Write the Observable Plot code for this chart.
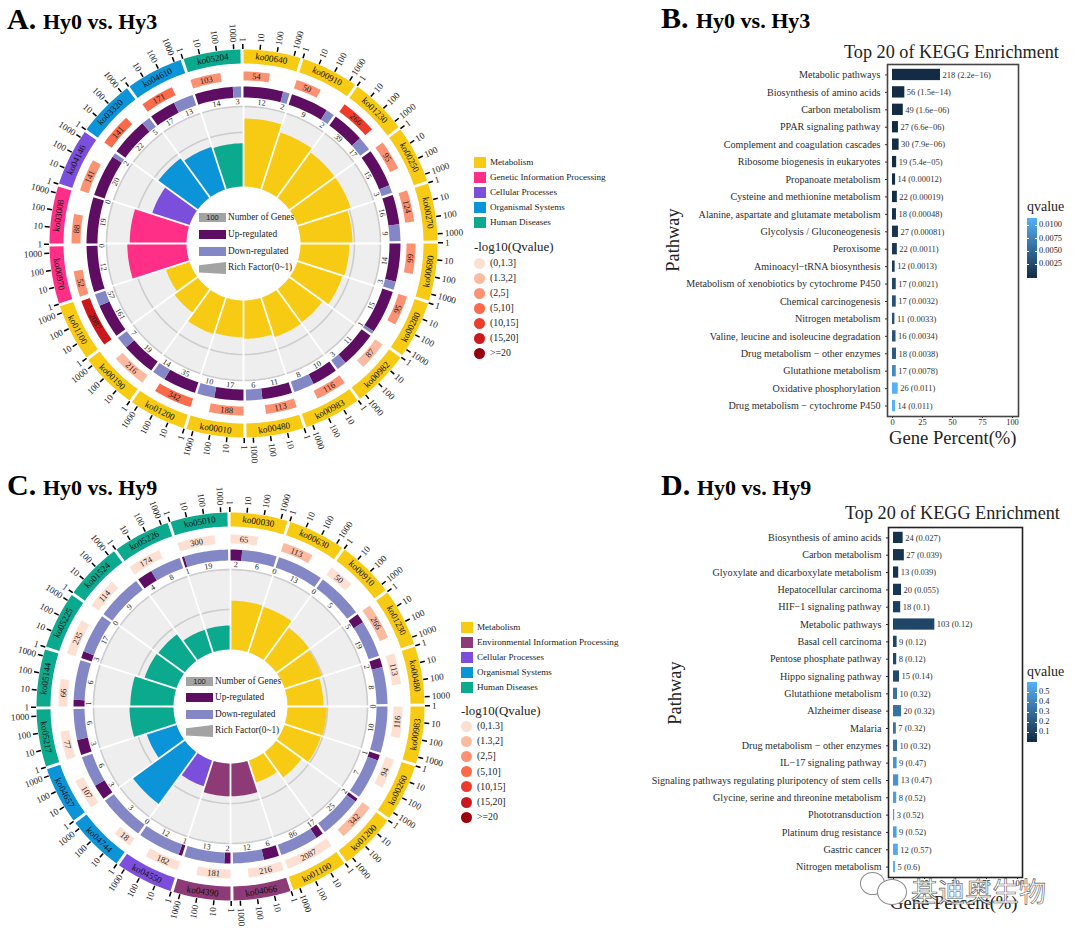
<!DOCTYPE html>
<html>
<head>
<meta charset="utf-8">
<script src="https://cdn.jsdelivr.net/npm/d3@7"></script>
<script src="https://cdn.jsdelivr.net/npm/@observablehq/plot@0.6"></script>
<style>
html,body{margin:0;padding:0;background:#fff}
#page{position:relative;width:1080px;height:937px;overflow:hidden;font-family:"Liberation Serif",serif;color:#222}
#page svg{position:absolute;overflow:visible}
.t{position:absolute;white-space:nowrap;transform:translateY(-50%);line-height:1}
.b{position:absolute}
</style>
</head>
<body>
<div id="page"></div>
<script>
// ---------- Panel A data ----------
const aPathways = ["ko00640","ko00910","ko01230","ko00250","ko00270","ko00680","ko00280","ko00982","ko00983","ko00480","ko00010","ko01200","ko00190","ko01100","ko00970","ko03008","ko04146","ko03320","ko04610","ko05204"];
const aGroups = ["Metabolism","Metabolism","Metabolism","Metabolism","Metabolism","Metabolism","Metabolism","Metabolism","Metabolism","Metabolism","Metabolism","Metabolism","Metabolism","Metabolism","Genetic Information Processing","Genetic Information Processing","Cellular Processes","Organismal Systems","Organismal Systems","Human Diseases"];
const aGenes = [54,50,266,95,124,99,95,87,116,113,188,342,216,2087,52,88,141,141,171,103];
const aQClass = ["(2,5]","(2,5]","(10,15]","(2,5]","(2,5]","(2,5]","(2,5]","(1.3,2]","(2,5]","(2,5]","(2,5]","(5,10]","(1.3,2]","(15,20]","(2,5]","(2,5]","(2,5]","(5,10]","(5,10]","(2,5]"];
const aUp = [12,9,39,15,16,14,15,11,10,11,17,35,19,161,12,19,20,22,17,14];
const aDown = [2,2,17,3,9,3,1,3,8,6,10,14,7,57,0,0,2,5,13,3];
const aRich = [.85,.75,.70,.70,.65,.61,.59,.51,.52,.48,.46,.48,.36,.31,.74,.71,.49,.61,.56,.54];
// ---------- Panel C data ----------
const cPathways = ["ko00030","ko00630","ko00910","ko01230","ko00480","ko00983","ko00260","ko01200","ko01100","ko04066","ko04390","ko04550","ko04744","ko04657","ko05217","ko05144","ko05225","ko01524","ko05226","ko05010"];
const cGroups = ["Metabolism","Metabolism","Metabolism","Metabolism","Metabolism","Metabolism","Metabolism","Metabolism","Metabolism","Environmental Information Processing","Environmental Information Processing","Cellular Processes","Organismal Systems","Organismal Systems","Human Diseases","Human Diseases","Human Diseases","Human Diseases","Human Diseases","Human Diseases"];
const cGenes = [65,113,50,266,113,116,94,342,2087,216,181,182,18,107,77,66,235,114,174,300];
const cQClass = ["(0,1.3]","(1.3,2]","(0,1.3]","(1.3,2]","(0,1.3]","(0,1.3]","(0,1.3]","(1.3,2]","(0,1.3]","(0,1.3]","(0,1.3]","(0,1.3]","(0,1.3]","(0,1.3]","(0,1.3]","(0,1.3]","(0,1.3]","(0,1.3]","(0,1.3]","(0,1.3]"];
const cUp = [2,0,0,5,2,0,1,2,17,6,2,1,0,3,3,1,3,0,4,1];
const cDown = [6,13,5,19,8,10,7,25,86,12,13,12,3,6,6,6,17,9,8,19];
const cRich = [.61,.60,.51,.49,.45,.49,.48,.39,.29,.41,.41,.34,.80,.39,.55,.54,.42,.41,.30,.30];
const logTicks = [1,10,100,1000];
// ---------- Panel B data ----------
const bNames = ["Metabolic pathways","Biosynthesis of amino acids","Carbon metabolism","PPAR signaling pathway","Complement and coagulation cascades","Ribosome biogenesis in eukaryotes","Propanoate metabolism","Cysteine and methionine metabolism","Alanine, aspartate and glutamate metabolism","Glycolysis / Gluconeogenesis","Peroxisome","Aminoacyl−tRNA biosynthesis","Metabolism of xenobiotics by cytochrome P450","Chemical carcinogenesis","Nitrogen metabolism","Valine, leucine and isoleucine degradation","Drug metabolism − other enzymes","Glutathione metabolism","Oxidative phosphorylation","Drug metabolism − cytochrome P450"];
const bCounts = [218,56,49,27,30,19,14,22,18,27,22,12,17,17,11,16,18,17,26,14];
const bQ = ["2.2e-16","1.5e-14","1.6e-06","6.6e-06","7.9e-06","5.4e-05","0.00012","0.00019","0.00048","0.00081","0.0011","0.0013","0.0021","0.0032","0.0033","0.0034","0.0038","0.0078","0.011","0.011"];
const bBackground = 545;
const bLegendTicks = ["0.0100","0.0075","0.0050","0.0025"];
// ---------- Panel D data ----------
const dNames = ["Biosynthesis of amino acids","Carbon metabolism","Glyoxylate and dicarboxylate metabolism","Hepatocellular carcinoma","HIF−1 signaling pathway","Metabolic pathways","Basal cell carcinoma","Pentose phosphate pathway","Hippo signaling pathway","Glutathione metabolism","Alzheimer disease","Malaria","Drug metabolism − other enzymes","IL−17 signaling pathway","Signaling pathways regulating pluripotency of stem cells","Glycine, serine and threonine metabolism","Phototransduction","Platinum drug resistance","Gastric cancer","Nitrogen metabolism"];
const dCounts = [24,27,13,20,18,103,9,8,15,10,20,7,10,9,13,8,3,9,12,5];
const dQ = ["0.027","0.039","0.039","0.055","0.1","0.12","0.12","0.12","0.14","0.32","0.32","0.32","0.32","0.47","0.47","0.52","0.52","0.52","0.57","0.6"];
const dBackground = 309;
const dLegendTicks = ["0.5","0.4","0.3","0.2","0.1"];
const percentTicks = [0,25,50,75,100];
// ---------- Legends ----------
const groupNames = ["Metabolism","Genetic Information Processing","Environmental Information Processing","Cellular Processes","Organismal Systems","Human Diseases"];
const groupColors = ["#F7CB13","#FF2F87","#8E3A76","#7B4FDB","#0B94D8","#0BA98D"];
const qClasses = ["(0,1.3]","(1.3,2]","(2,5]","(5,10]","(10,15]","(15,20]",">=20"];
const qColors = ["#FDE0D2","#FCBBA1","#FC9272","#FB6A4A","#EF3B2C","#CB181D","#99000D"];
const UP="#5E0E62", DOWN="#8387C6", GREY="#A3A3A3", LOW="#132B43", HIGH="#56B1F7";

const page = document.getElementById("page");
function txt(x,y,s,size,extra){const d=document.createElement("div");d.className="t";d.textContent=s;d.style.left=x+"px";d.style.top=y+"px";d.style.fontSize=size+"px";Object.assign(d.style,extra||{});page.appendChild(d);return d;}
function box(x,y,w,h,extra){const d=document.createElement("div");d.className="b";Object.assign(d.style,{left:x+"px",top:y+"px",width:w+"px",height:h+"px"},extra||{});page.appendChild(d);return d;}

const RAD=Math.PI/180, STEP=18, SPAN=17.1, LOG=5.1;
const pol=(a,r)=>[r*Math.sin(a*RAD),-r*Math.cos(a*RAD)];
const upright=a=>(a>90&&a<270)?a-180:a;
function wedge(rows,id,key,a0,a1,r0,r1){
  const n=Math.max(2,Math.ceil((a1-a0)/1.5));
  for(let i=0;i<=n;i++){const [x,y]=pol(a0+(a1-a0)*i/n,r1);rows.push({id,key,x,y});}
  for(let i=n;i>=0;i--){const [x,y]=pol(a0+(a1-a0)*i/n,r0);rows.push({id,key,x,y});}
}
function circleRows(r){const o=[];for(let a=0;a<360;a+=2){const [x,y]=pol(a,r);o.push({x,y,r});}return o;}

function circos({cx,cy,names,groups,genes,qClass,up,down,rich,midR}){
  const W=470,H=470,ox=cx-235,oy=cy-235;
  const R0=57,R1=137;
  const bg=[],bars=[],ud=[],qr=[],ring=[];
  const seps=[],ticks=[],tickR=[],tickL=[],ringT=[],qT=[],udT=[];
  names.forEach((n,i)=>{
    const s=i*STEP, m=s+SPAN/2;
    wedge(bg,"b"+i,"bg",s,s+STEP,R0,R1);
    wedge(bars,"r"+i,groups[i],s,s+STEP,R0,R0+rich[i]*(R1-R0));
    const [a,b]=pol(s,R0-1),[c,d]=pol(s,R1+2);seps.push({x1:a,y1:b,x2:c,y2:d});
    wedge(ring,"o"+i,groups[i],s,s+SPAN,180,194);
    let [tx,ty]=pol(m,187);ringT.push({x:tx,y:ty,t:n,rot:upright(m)});
    const ext=LOG*Math.log10(genes[i]);
    const q=Math.min(ext,SPAN-.6);
    wedge(qr,"q"+i,qClass[i],s,s+q,163,172);
    [tx,ty]=pol(s+q/2,167.5);qT.push({x:tx,y:ty,t:String(genes[i]),rot:upright(s+q/2)});
    const tot=up[i]+down[i], split=s+SPAN*up[i]/tot;
    if(up[i]>0)wedge(ud,"u"+i,"Up",s,split,146,157);
    if(down[i]>0)wedge(ud,"d"+i,"Down",split,s+SPAN,146,157);
    const am=(s+split)/2, bm=(split+s+SPAN)/2;
    [tx,ty]=pol(am,142);udT.push({x:tx,y:ty,t:String(up[i]),rot:upright(am)});
    [tx,ty]=pol(bm,142);udT.push({x:tx,y:ty,t:String(down[i]),rot:upright(bm)});
    logTicks.forEach(v=>{
      const at=s-.2+LOG*Math.log10(v);
      const [x1,y1]=pol(at,194.5),[x2,y2]=pol(at,199.5),[lx,ly]=pol(at,201.5);
      ticks.push({x1,y1,x2,y2});
      if(at>=0&&at<180)tickR.push({x:lx,y:ly,t:String(v),rot:at-90});else tickL.push({x:lx,y:ly,t:String(v),rot:at+90});
    });
  });
  const keys=[...groupNames,...qClasses,"bg","Up","Down"];
  const vals=[...groupColors,...qColors,"#EEEEEE",UP,DOWN];
  const poly=(rows)=>Plot.line(rows,{x:"x",y:"y",z:"id",fill:"key",stroke:"none",curve:"linear-closed"});
  const tt=(rows,o)=>Plot.text(rows,{x:"x",y:"y",text:"t",rotate:"rot",fill:"#1c1c1c",...o});
  const svg=Plot.plot({
    width:W,height:H,margin:0,style:{fontFamily:"Liberation Serif",background:"transparent"},
    x:{domain:[-235,235],range:[0,W],axis:null},
    y:{domain:[-235,235],range:[0,H],axis:null},
    color:{domain:keys,range:vals},
    marks:[
      poly(bg),
      Plot.line(circleRows(R1),{x:"x",y:"y",stroke:"#CDCDCD",strokeWidth:1.6,curve:"linear-closed"}),
      Plot.line(circleRows(midR),{x:"x",y:"y",stroke:"#CDCDCD",strokeWidth:1.6,curve:"linear-closed"}),
      poly(bars),
      Plot.link(seps,{x1:"x1",y1:"y1",x2:"x2",y2:"y2",stroke:"#fff",strokeWidth:1.8}),
      poly(ud),poly(qr),poly(ring),
      Plot.link(ticks,{x1:"x1",y1:"y1",x2:"x2",y2:"y2",stroke:"#000",strokeWidth:1.5}),
      tt(tickR,{textAnchor:"start",fontSize:9.2}),
      tt(tickL,{textAnchor:"end",fontSize:9.2}),
      tt(ringT,{fontSize:9.2,fill:"#111"}),
      tt(qT,{fontSize:8.6}),
      tt(udT,{fontSize:8})
    ]
  });
  svg.style.left=ox+"px";svg.style.top=oy+"px";
  page.appendChild(svg);
}

function centerLegend(x,tx,y,size){
  box(x,y[0],27,9,{background:GREY});
  txt(x+13.5,y[0]+5,"100",7.5,{fontFamily:"Liberation Sans",transform:"translate(-50%,-50%)",color:"#222"});
  txt(tx,y[0]+5,"Number of Genes",size);
  box(x,y[1],27,9,{background:UP});txt(tx,y[1]+5,"Up-regulated",size);
  box(x,y[2],27,9,{background:DOWN});txt(tx,y[2]+5,"Down-regulated",size);
  box(x,y[3],27,12,{background:GREY,clipPath:"polygon(0 28%,100% 0,100% 100%,0 88%)"});txt(tx,y[3]+6,"Rich Factor(0~1)",size);
}
function sideLegend(x,y0,names,ly,cy,cStep){
  names.forEach((n,i)=>{
    const c=groupColors[groupNames.indexOf(n)];
    box(x,y0+i*15-5,12,11,{background:c});
    txt(x+16,y0+i*15+.5,n,9.1);
  });
  txt(x,ly,"-log10(Qvalue)",12.9);
  qClasses.forEach((q,i)=>{
    const y=cy+i*cStep;
    box(x,y-5.5,11,11,{background:qColors[i],borderRadius:"50%"});
    txt(x+16,y,q,9.8);
  });
}

function barPanel({top,bottom,left,right,names,counts,q,base,qMax,zero,hundred,frame}){
  const svgLeft=640, svgTop=top-9, W=390, mL=left-svgLeft, mR=svgLeft+W-right;
  const H=bottom-top+9+18;
  const perPx=(hundred-zero)/100;
  const rows=names.map((n,i)=>({name:n,pct:counts[i]/base*100,q:+q[i],label:`${counts[i]} (${q[i].replace("-","−")})`}));
  const svg=Plot.plot({
    width:W,height:H,marginLeft:mL,marginRight:mR,marginTop:9,marginBottom:18,
    style:{fontFamily:"Liberation Serif",background:"transparent"},
    x:{domain:[(left-zero)/perPx,(right-zero)/perPx],axis:null},
    y:{domain:names,paddingInner:.35,paddingOuter:.275,round:false,axis:null},
    color:{type:"linear",domain:[0,qMax],range:[LOW,HIGH]},
    marks:[
      Plot.barX(rows,{x:"pct",y:"name",fill:"q"}),
      Plot.text(rows,{x:"pct",y:"name",text:"label",dx:2,textAnchor:"start",fontSize:8.5,fill:"#333"}),
      Plot.axisY({tickSize:2,tickPadding:5,fontSize:10.1,label:null,color:"#2c2c2c"}),
      Plot.axisX({ticks:percentTicks,tickSize:2,tickPadding:1,fontSize:8.4,label:null,color:"#2c2c2c"}),
      Plot.frame({stroke:frame,strokeWidth:1.6})
    ]
  });
  svg.style.left=svgLeft+"px";svg.style.top=svgTop+"px";
  page.appendChild(svg);
}
function colorBar(x,top,bottom,ticks,tickYs){
  box(x,top,10,bottom-top,{background:`linear-gradient(${HIGH},${LOW})`});
  ticks.forEach((t,i)=>{
    box(x,tickYs[i]-.4,2,.8,{background:"#fff"});box(x+8,tickYs[i]-.4,2,.8,{background:"#fff"});
    txt(x+12,tickYs[i],t,8.4);
  });
}
function heading(x,base,letter,lx,label){
  txt(x,base-10,letter,30,{fontWeight:"bold",color:"#000"});
  txt(lx,base-7,label,22,{fontWeight:"bold",color:"#000"});
}

circos({cx:243,cy:243,names:aPathways,groups:aGroups,genes:aGenes,qClass:aQClass,up:aUp,down:aDown,rich:aRich,midR:111});
circos({cx:229.5,cy:706,names:cPathways,groups:cGroups,genes:cGenes,qClass:cQClass,up:cUp,down:cDown,rich:cRich,midR:97});

barPanel({top:64,bottom:416,left:887,right:1018,names:bNames,counts:bCounts,q:bQ,base:bBackground,qMax:0.011,zero:892,hundred:1012,frame:"#444"});
barPanel({top:527,bottom:877,left:888,right:1022,names:dNames,counts:dCounts,q:dQ,base:dBackground,qMax:0.6,zero:893,hundred:1017,frame:"#222"});

heading(7,29,"A.",43,"Hy0 vs. Hy3");
heading(661,28,"B.",696,"Hy0 vs. Hy3");
heading(7,495,"C.",43,"Hy0 vs. Hy9");
heading(661,495,"D.",697,"Hy0 vs. Hy9");

centerLegend(199,228,[213,230,247,262],9.3);
centerLegend(186,215,[677,693,710,725],9.3);
sideLegend(474,162,["Metabolism","Genetic Information Processing","Cellular Processes","Organismal Systems","Human Diseases"],247,263,15);
sideLegend(461,627,["Metabolism","Environmental Information Processing","Cellular Processes","Organismal Systems","Human Diseases"],711,726,15.2);

txt(844,52,"Top 20 of KEGG Enrichment",18.2);
txt(845,513,"Top 20 of KEGG Enrichment",18.2);
txt(889,438,"Gene Percent(%)",18.6);
txt(890,903,"Gene Percent(%)",18.6);
[[673,240],[675,693]].forEach(([x,y])=>{
  const d=txt(x,y,"Pathway",18.4);d.style.transform="translate(-50%,-50%) rotate(-90deg)";
});
txt(1027,207,"qvalue",14);
txt(1027,672,"qvalue",14);
colorBar(1027,218,278,bLegendTicks,[225,238.5,251,264]);
colorBar(1027,682,742,dLegendTicks,[692,702,712,722,732]);

// watermark
box(860,872,23,21,{background:"#fff",border:"1px solid #888",borderRadius:"50%"});
box(877,879,28,24,{background:"#fff",border:"1px solid #888",borderRadius:"50%"});
txt(911,890,"基迪奥生物",27,{fontFamily:"Noto Sans CJK SC",color:"rgba(255,255,255,.85)",webkitTextStroke:"0.6px #555"});
</script>
</body>
</html>
